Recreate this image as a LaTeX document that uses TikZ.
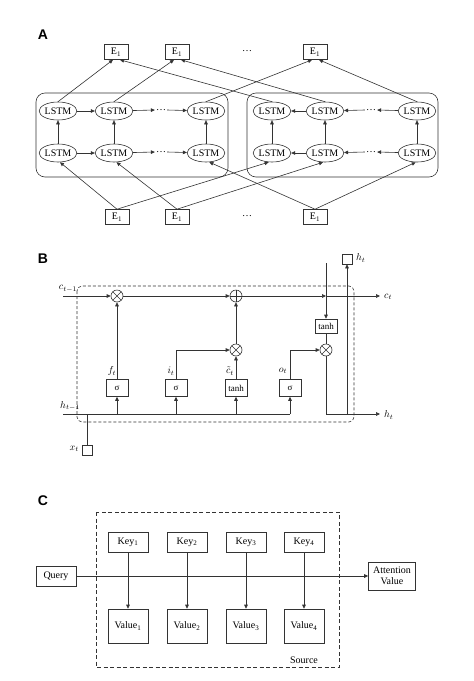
\documentclass[tikz,border=0pt]{standalone}
\usepackage{fontspec}
\setmainfont{Liberation Serif}
\setsansfont{Liberation Sans}
\usetikzlibrary{shapes.geometric,arrows.meta,calc}
\tikzset{
  ln/.style={draw=black!80, line width=0.6pt},
  arr/.style={ln, -{Triangle[length=4pt,width=3.6pt]}},
  ebox/.style={draw=black!80, line width=0.6pt, minimum width=24pt, minimum height=15pt, inner sep=0pt, font=\fontsize{10}{12}\selectfont},
  lstm/.style={ellipse, draw=black!80, line width=0.6pt, minimum width=37pt, minimum height=18pt, inner sep=0pt, font=\fontsize{10}{12}\selectfont},
  dots/.style={inner sep=1pt, font=\fontsize{10}{12}\selectfont},
  plabel/.style={font=\sffamily\bfseries\fontsize{14}{16}\selectfont},
  gate/.style={draw=black!80, line width=0.6pt, minimum width=22pt, minimum height=17pt, inner sep=0pt, font=\fontsize{9}{11}\selectfont},
  sq/.style={draw=black!80, line width=0.6pt, minimum size=10pt, inner sep=0pt},
  lab/.style={inner sep=0pt, font=\fontsize{10}{12}\selectfont},
  mult/.style={circle, draw=black!80, line width=0.6pt, minimum size=12pt, inner sep=0pt,
    path picture={\draw[black!80, line width=0.6pt] (path picture bounding box.north west) -- (path picture bounding box.south east) (path picture bounding box.north east) -- (path picture bounding box.south west);}},
  plus/.style={circle, draw=black!80, line width=0.6pt, minimum size=12pt, inner sep=0pt,
    path picture={\draw[black!80, line width=0.6pt] (path picture bounding box.north) -- (path picture bounding box.south) (path picture bounding box.east) -- (path picture bounding box.west);}},
  cbox/.style={draw=black!80, line width=0.6pt, minimum width=40pt, minimum height=20pt, inner sep=0pt, align=center, font=\fontsize{10}{11}\selectfont},
}
\begin{document}
\begin{tikzpicture}[x=1pt, y=-1pt]
\useasboundingbox (0,0) rectangle (474,681);
% ================= Panel A =================
\node[plabel] (pA) at (43,35) {A};
\draw[ln, rounded corners=9pt] (36,93) rectangle (228,177);
\draw[ln, rounded corners=9pt] (247,93) rectangle (438,177);
\node[ebox] (t1) at (116,52) {E\textsubscript{1}};
\node[ebox] (t2) at (177,52) {E\textsubscript{1}};
\node[ebox] (t3) at (315,52) {E\textsubscript{1}};
\node[dots] (tdots) at (247,51) {…};
\node[ebox] (b1) at (117,217) {E\textsubscript{1}};
\node[ebox] (b2) at (177,217) {E\textsubscript{1}};
\node[ebox] (b3) at (315,217) {E\textsubscript{1}};
\node[dots] (bdots) at (247,216) {…};
% upper row
\node[lstm] (u1) at (58,111) {LSTM};
\node[lstm] (u2) at (114,111) {LSTM};
\node[lstm] (u3) at (206,111) {LSTM};
\node[lstm] (v1) at (272,111) {LSTM};
\node[lstm] (v2) at (325,111) {LSTM};
\node[lstm] (v3) at (417,111) {LSTM};
\node[dots] (ud1) at (161,110) {…};
\node[dots] (ud2) at (371,110) {…};
% lower row
\node[lstm] (l1) at (58,153) {LSTM};
\node[lstm] (l2) at (114,153) {LSTM};
\node[lstm] (l3) at (206,153) {LSTM};
\node[lstm] (m1) at (272,153) {LSTM};
\node[lstm] (m2) at (325,153) {LSTM};
\node[lstm] (m3) at (417,153) {LSTM};
\node[dots] (ld1) at (161,152) {…};
\node[dots] (ld2) at (371,152) {…};
% horizontal arrows
\foreach \a/\b/\c/\d/\e/\f/\g/\h in {u1/u2/ud1/u3/v3/ud2/v2/v1, l1/l2/ld1/l3/m3/ld2/m2/m1}{
  \draw[arr] (\a) -- (\b);
  \draw[arr] (\b) -- (\c.west);
  \draw[arr] (\c.east) -- (\d);
  \draw[arr] (\e) -- (\f.east);
  \draw[arr] (\f.west) -- (\g);
  \draw[arr] (\g) -- (\h);
}
% vertical arrows
\foreach \a/\b in {l1/u1, l2/u2, l3/u3, m1/v1, m2/v2, m3/v3}{
  \draw[arr] (\a) -- (\b);
}
% upper to top E
\draw[arr] (u1.north) -- ($(t1.south)+(-3,0)$);
\draw[arr] (v1.north) -- ($(t1.south)+(4,0)$);
\draw[arr] (u2.north) -- ($(t2.south)+(-3,0)$);
\draw[arr] (v2.north) -- ($(t2.south)+(4,0)$);
\draw[arr] (u3.north) -- ($(t3.south)+(-3,0)$);
\draw[arr] (v3.north) -- ($(t3.south)+(4,0)$);
% bottom E to lower
\draw[arr] (b1.north) -- (l1.282);
\draw[arr] (b1.north) -- (m1.250);
\draw[arr] (b2.north) -- (l2.285);
\draw[arr] (b2.north) -- (m2.258);
\draw[arr] (b3.north) -- (l3.290);
\draw[arr] (b3.north) -- (m3.262);
% ================= Panel B =================
\node[plabel] (pB) at (43,259) {B};
\draw[ln, densely dashed, rounded corners=5pt] (77,286) rectangle (354,422);
\node[mult] (ox1) at (117,296) {};
\node[plus] (op) at (236,296) {};
\node[mult] (ox2) at (236,350) {};
\node[mult] (ox3) at (326,350) {};
\node[gate] (sf) at (117,388) {σ};
\node[gate] (si) at (176,388) {σ};
\node[gate] (st) at (236,388) {tanh};
\node[gate] (so) at (290,388) {σ};
\node[gate, minimum height=14pt] (tc) at (326,326) {tanh};
\node[sq] (ht) at (347,259) {};
\node[sq] (xt) at (87,450) {};
\node[lab, anchor=west] (htl) at (356,258) {$h_t$};
\node[lab, anchor=east] (xtl) at (79,449) {$x_t$};
\node[lab] (fl) at (112,371) {$f_t$};
\node[lab] (il) at (171,371) {$i_t$};
\node[lab] (cl) at (230,371) {$\tilde{c}_t$};
\node[lab] (ol) at (283,371) {$o_t$};
\node[lab] (cin) at (68,289) {$c_{t-1}$};
\node[lab] (hin) at (70,406) {$h_{t-1}$};
\node[lab, anchor=west] (cout) at (384,297) {$c_t$};
\node[lab, anchor=west] (hout) at (384,415) {$h_t$};
\coordinate (cst) at (63,296);
\coordinate (hst) at (63,414);
\coordinate (jc) at (326,296);
\coordinate (tctop) at (326,263);
\coordinate (hend) at (380,414);
\coordinate (cend) at (380,296);
\coordinate (hj) at (290,414);
\coordinate (xj) at (87,414);
\coordinate (hh) at (347,414);
% c line
\draw[arr] (cst) -- (ox1);
\draw[arr] (ox1) -- (op);
\draw[arr] (op) -- (jc);
\draw[arr] (jc) -- (cend);
\draw[arr] (tctop) -- (tc);
% h_{t-1} line
\draw[ln] (hst) -- (hj);
\draw[ln] (xj) -- (xt);
\draw[arr] (sf.south |- hst) -- (sf);
\draw[arr] (si.south |- hst) -- (si);
\draw[arr] (st.south |- hst) -- (st);
\draw[arr] (hj) -- (so);
% gates
\draw[arr] (sf) -- (ox1);
\draw[arr] (si.north) |- (ox2);
\draw[arr] (st) -- (ox2);
\draw[arr] (ox2) -- (op);
\draw[arr] (so.north) |- (ox3);
\draw[ln] (tc) -- (ox3);
\draw[arr] (ox3) |- (hend);
\draw[arr] (hh) -- (ht);
% ================= Panel C =================
\node[plabel] (pC) at (43,501) {C};
\draw[ln, dash pattern=on 4pt off 2.5pt] (96,512) rectangle (339,667);
\node[cbox] (q) at (56,576) {Query};
\node[cbox, minimum width=47pt, minimum height=28pt] (av) at (392,576) {Attention\\Value};
\node[lab] (src) at (304,660) {Source};
\foreach \i/\x in {1/128, 2/187, 3/246, 4/304}{
  \node[cbox] (k\i) at (\x,542) {Key\textsubscript{\i}};
  \node[cbox, minimum height=34pt] (val\i) at (\x,626) {Value\textsubscript{\i}};
  \draw[arr] (k\i) -- (val\i);
}
\draw[arr] (q) -- (av);
\end{tikzpicture}
\end{document}
